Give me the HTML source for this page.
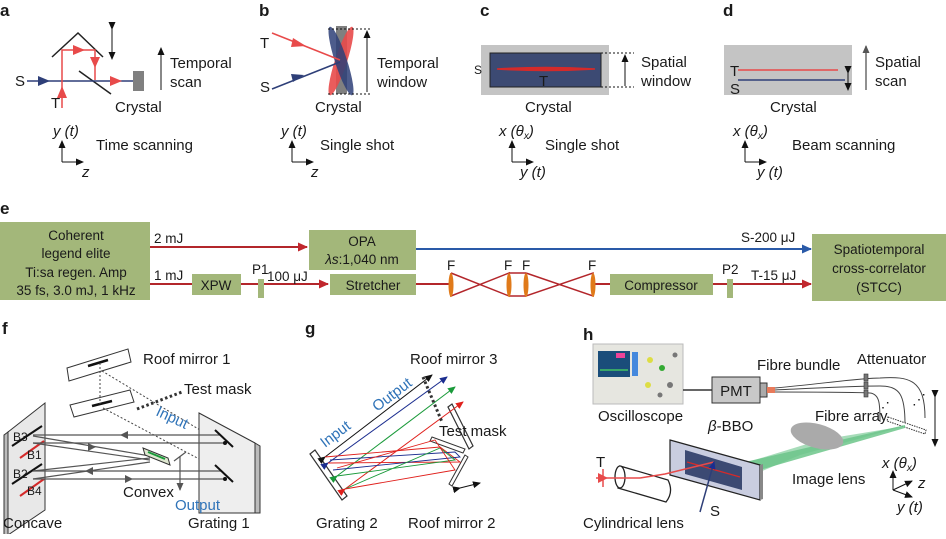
<!DOCTYPE html>
<html><head><meta charset="utf-8"><style>
body{margin:0;background:#fff}
svg text{font-family:"Liberation Sans",Arial,sans-serif;font-size:15px;fill:#1a1a1a}
.b{font-weight:bold;font-size:17px}
.e{font-size:13.5px}
.i{font-style:italic}
.bl{fill:#2f73b8}
</style></head><body>
<svg width="946" height="534" viewBox="0 0 946 534" xmlns="http://www.w3.org/2000/svg">
<defs>
<marker id="ak" markerWidth="8" markerHeight="8" refX="7" refY="4" orient="auto" markerUnits="userSpaceOnUse"><path d="M0,0.5 L8,4 L0,7.5z" fill="#111"/></marker>
<marker id="ar" markerWidth="10" markerHeight="10" refX="9" refY="5" orient="auto" markerUnits="userSpaceOnUse"><path d="M0,0.5 L10,5 L0,9.5z" fill="#c1272d"/></marker>
<marker id="ab" markerWidth="10" markerHeight="10" refX="9" refY="5" orient="auto" markerUnits="userSpaceOnUse"><path d="M0,0.5 L10,5 L0,9.5z" fill="#2a5aa8"/></marker>
<marker id="ag" markerWidth="8" markerHeight="8" refX="7" refY="4" orient="auto" markerUnits="userSpaceOnUse"><path d="M0,0.5 L8,4 L0,7.5z" fill="#1a9a3a"/></marker>
<marker id="au" markerWidth="8" markerHeight="8" refX="7" refY="4" orient="auto" markerUnits="userSpaceOnUse"><path d="M0,0.5 L8,4 L0,7.5z" fill="#1b2d8f"/></marker>
<marker id="arr" markerWidth="8" markerHeight="8" refX="7" refY="4" orient="auto" markerUnits="userSpaceOnUse"><path d="M0,0.5 L8,4 L0,7.5z" fill="#e0201c"/></marker>
<marker id="ay" markerWidth="8" markerHeight="8" refX="7" refY="4" orient="auto" markerUnits="userSpaceOnUse"><path d="M0,0.5 L8,4 L0,7.5z" fill="#555"/></marker>
</defs>

<!-- Panel a -->
<text x="0" y="16" class="b">a</text>
<polyline points="52,57 78,33 103,57" fill="none" stroke="#222" stroke-width="1.5"/>
<line x1="112" y1="29" x2="112" y2="59" stroke="#111" marker-start="url(#ak)" marker-end="url(#ak)"/>
<line x1="79" y1="71" x2="111" y2="94" stroke="#222" stroke-width="1.5"/>
<line x1="27" y1="81" x2="133" y2="81" stroke="#2e3f78" stroke-width="1.5"/>
<polyline points="62,108 62,50 95,50 95,80" fill="none" stroke="#e84a4a" stroke-width="1.5"/>
<path d="M38,76 L50,81 L38,86z" fill="#2e3f78"/>
<path d="M110,76 L122,81 L110,86z" fill="#e84a4a"/>
<path d="M57,98 L62,86 L67,98z" fill="#e84a4a"/>
<path d="M73,45 L85,50 L73,55z" fill="#e84a4a"/>
<path d="M90,57 L95,68 L100,57z" fill="#e84a4a"/>
<rect x="133" y="71" width="11" height="20" fill="#808080"/>
<line x1="161" y1="90" x2="161" y2="48" stroke="#111" marker-end="url(#ak)"/>
<text x="170" y="68">Temporal</text><text x="170" y="87">scan</text>
<text x="15" y="86" fill="#2e3f78">S</text>
<text x="51" y="108" fill="#e84a4a">T</text>
<text x="115" y="112">Crystal</text>
<text x="53" y="136" class="i">y (t)</text>
<polyline points="62,162 62,141" fill="none" stroke="#111" marker-end="url(#ak)"/>
<line x1="62" y1="162" x2="83" y2="162" stroke="#111" marker-end="url(#ak)"/>
<text x="82" y="177" class="i">z</text>
<text x="96" y="150">Time scanning</text>

<!-- Panel b -->
<text x="259" y="16" class="b">b</text>
<rect x="336" y="26" width="11" height="68" fill="#808080"/>
<ellipse cx="341" cy="61" rx="6" ry="36" fill="#e84a4a" opacity="0.9" transform="rotate(18 341 61)"/>
<ellipse cx="341" cy="61" rx="6" ry="36" fill="#2e3f78" opacity="0.85" transform="rotate(-18 341 61)"/>
<line x1="272" y1="33" x2="340" y2="60" stroke="#e84a4a" stroke-width="1.5"/>
<line x1="272" y1="89" x2="340" y2="62" stroke="#2e3f78" stroke-width="1.5"/>
<path d="M293,38 L306,46 L291,47z" fill="#e84a4a"/>
<path d="M291,74 L304,75 L293,82z" fill="#2e3f78"/>
<line x1="328" y1="29" x2="372" y2="29" stroke="#111" stroke-dasharray="2,2"/>
<line x1="328" y1="94" x2="372" y2="94" stroke="#111" stroke-dasharray="2,2"/>
<line x1="367" y1="92" x2="367" y2="31" stroke="#111" marker-end="url(#ak)"/>
<text x="377" y="68">Temporal</text><text x="377" y="87">window</text>
<text x="260" y="48" fill="#e84a4a">T</text>
<text x="260" y="92" fill="#2e3f78">S</text>
<text x="315" y="112">Crystal</text>
<text x="281" y="136" class="i">y (t)</text>
<line x1="292" y1="162" x2="292" y2="141" stroke="#111" marker-end="url(#ak)"/>
<line x1="292" y1="162" x2="313" y2="162" stroke="#111" marker-end="url(#ak)"/>
<text x="311" y="177" class="i">z</text>
<text x="320" y="150">Single shot</text>

<!-- Panel c -->
<text x="480" y="16" class="b">c</text>
<rect x="481" y="45" width="128" height="50" fill="#c4c4c4"/>
<rect x="490" y="53" width="111" height="34" fill="#3c4a73" stroke="#222"/>
<path d="M497,69 Q546,66 595,69 Q546,72 497,69z" fill="#d42a2a" stroke="#d42a2a" stroke-width="1.5"/>
<text x="539" y="86" fill="#d42a2a">T</text>
<text x="474" y="74" fill="#2e3f78" style="font-size:12px">S</text>
<line x1="601" y1="53" x2="634" y2="53" stroke="#111" stroke-dasharray="2,2"/>
<line x1="601" y1="87" x2="634" y2="87" stroke="#111" stroke-dasharray="2,2"/>
<line x1="625" y1="86" x2="625" y2="55" stroke="#111" marker-end="url(#ak)"/>
<text x="641" y="67">Spatial</text><text x="641" y="86">window</text>
<text x="525" y="112">Crystal</text>
<text x="499" y="136" class="i">x (θ<tspan font-size="10" dy="3">x</tspan><tspan dy="-3">)</tspan></text>
<line x1="512" y1="162" x2="512" y2="141" stroke="#111" marker-end="url(#ak)"/>
<line x1="512" y1="162" x2="533" y2="162" stroke="#111" marker-end="url(#ak)"/>
<text x="520" y="177" class="i">y (t)</text>
<text x="545" y="150">Single shot</text>

<!-- Panel d -->
<text x="723" y="16" class="b">d</text>
<rect x="724" y="45" width="128" height="50" fill="#c4c4c4"/>
<line x1="738" y1="70" x2="838" y2="70" stroke="#e84a4a" stroke-width="1.5"/>
<line x1="738" y1="80" x2="845" y2="80" stroke="#2e3f78" stroke-width="1.5"/>
<text x="730" y="76" fill="#e84a4a">T</text>
<text x="730" y="94" fill="#2e3f78">S</text>
<line x1="848" y1="73" x2="848" y2="90" stroke="#111" marker-start="url(#ak)" marker-end="url(#ak)"/>
<line x1="866" y1="90" x2="866" y2="46" stroke="#555" stroke-width="1.3" marker-end="url(#ay)"/>
<text x="875" y="67">Spatial</text><text x="875" y="86">scan</text>
<text x="770" y="112">Crystal</text>
<text x="733" y="136" class="i">x (θ<tspan font-size="10" dy="3">x</tspan><tspan dy="-3">)</tspan></text>
<line x1="745" y1="162" x2="745" y2="141" stroke="#111" marker-end="url(#ak)"/>
<line x1="745" y1="162" x2="766" y2="162" stroke="#111" marker-end="url(#ak)"/>
<text x="757" y="177" class="i">y (t)</text>
<text x="792" y="150">Beam scanning</text>

<!-- Panel e -->
<text x="0" y="214" class="b">e</text>
<rect x="0" y="222" width="150" height="78" fill="#a3b77a"/>
<text x="76" y="240" class="e" text-anchor="middle">Coherent</text>
<text x="76" y="258" class="e" text-anchor="middle">legend elite</text>
<text x="76" y="277" class="e" text-anchor="middle">Ti:sa regen. Amp</text>
<text x="76" y="295" class="e" text-anchor="middle">35 fs, 3.0 mJ, 1 kHz</text>
<line x1="150" y1="247" x2="307" y2="247" stroke="#b3262b" stroke-width="2" marker-end="url(#ar)"/>
<text x="154" y="243" class="e">2 mJ</text>
<rect x="309" y="230" width="107" height="40" fill="#a3b77a"/>
<text x="362" y="246" class="e" text-anchor="middle">OPA</text>
<text x="362" y="264" class="e" text-anchor="middle"><tspan class="i">λs</tspan>:1,040 nm</text>
<line x1="416" y1="249" x2="811" y2="249" stroke="#2a5aa8" stroke-width="2" marker-end="url(#ab)"/>
<text x="741" y="242" class="e">S-200 μJ</text>
<rect x="812" y="234" width="134" height="67" fill="#a3b77a"/>
<text x="879" y="254" class="e" text-anchor="middle">Spatiotemporal</text>
<text x="879" y="273" class="e" text-anchor="middle">cross-correlator</text>
<text x="879" y="292" class="e" text-anchor="middle">(STCC)</text>
<line x1="150" y1="284" x2="192" y2="284" stroke="#b3262b" stroke-width="2"/>
<text x="154" y="280" class="e">1 mJ</text>
<rect x="192" y="274" width="49" height="21" fill="#a3b77a"/>
<text x="216" y="290" class="e" text-anchor="middle">XPW</text>
<line x1="241" y1="284" x2="328" y2="284" stroke="#b3262b" stroke-width="2" marker-end="url(#ar)"/>
<rect x="258" y="279" width="6" height="19" fill="#a3b77a"/>
<text x="252" y="274" class="e">P1</text>
<text x="267" y="281" class="e">100 μJ</text>
<rect x="330" y="274" width="86" height="21" fill="#a3b77a"/>
<text x="373" y="290" class="e" text-anchor="middle">Stretcher</text>
<line x1="416" y1="284" x2="451" y2="284" stroke="#b3262b" stroke-width="2"/>
<g stroke="#b3262b" stroke-width="1.5" fill="none">
<polyline points="451,273 509,296 509,273 451,296 451,273"/>
<line x1="509" y1="273" x2="526" y2="273"/><line x1="509" y1="296" x2="526" y2="296"/>
<polyline points="526,273 593,296 593,273 526,296 526,273"/>
</g>
<line x1="593" y1="284" x2="610" y2="284" stroke="#b3262b" stroke-width="2"/>
<g fill="#e07a1a">
<ellipse cx="451" cy="285" rx="2.5" ry="12"/><ellipse cx="509" cy="285" rx="2.5" ry="12"/>
<ellipse cx="526" cy="285" rx="2.5" ry="12"/><ellipse cx="593" cy="285" rx="2.5" ry="12"/>
</g>
<text x="447" y="270" class="e">F</text><text x="504" y="270" class="e">F</text>
<text x="522" y="270" class="e">F</text><text x="588" y="270" class="e">F</text>
<rect x="610" y="274" width="103" height="21" fill="#a3b77a"/>
<text x="661" y="290" class="e" text-anchor="middle">Compressor</text>
<line x1="713" y1="284" x2="811" y2="284" stroke="#b3262b" stroke-width="2" marker-end="url(#ar)"/>
<rect x="727" y="279" width="6" height="19" fill="#a3b77a"/>
<text x="722" y="274" class="e">P2</text>
<text x="751" y="280" class="e">T-15 μJ</text>

<!-- Panel f -->
<text x="2" y="334" class="b">f</text>
<polygon points="67,368 128,349 131,362 69,381" fill="#fff" stroke="#333"/>
<line x1="88" y1="366" x2="108" y2="360" stroke="#111" stroke-width="2.5"/>
<polygon points="70,405 130,390 134,402 74,417" fill="#fff" stroke="#333"/>
<line x1="92" y1="406" x2="112" y2="401" stroke="#111" stroke-width="2.5"/>
<g stroke="#444" stroke-dasharray="2,2" fill="none">
<line x1="100" y1="363" x2="100" y2="404"/>
<line x1="102" y1="371" x2="220" y2="442"/>
<line x1="103" y1="408" x2="220" y2="470"/>
</g>
<line x1="137" y1="409" x2="182" y2="392" stroke="#333" stroke-width="3" stroke-dasharray="2.5,2.5"/>
<text x="143" y="364">Roof mirror 1</text>
<text x="184" y="394">Test mask</text>
<polygon points="8,432 45,403 45,510 8,535" fill="#e8e8e8" stroke="#333"/>
<polygon points="4,435 8,432 8,535 4,538" fill="#bbb" stroke="#333"/>
<polygon points="199,413 255,443 255,513 199,513" fill="#eee" stroke="#333"/>
<polygon points="255,443 260,446 260,513 255,513" fill="#bbb" stroke="#333"/>
<line x1="12" y1="446" x2="42" y2="426" stroke="#111" stroke-width="2"/>
<line x1="20" y1="458" x2="44" y2="441" stroke="#d42a2a" stroke-width="2"/>
<line x1="12" y1="484" x2="42" y2="464" stroke="#111" stroke-width="2"/>
<line x1="20" y1="496" x2="44" y2="479" stroke="#d42a2a" stroke-width="2"/>
<g stroke="#555" stroke-width="1.2" fill="none">
<line x1="33" y1="435" x2="220" y2="435"/>
<line x1="33" y1="443" x2="226" y2="443"/>
<line x1="33" y1="471" x2="222" y2="471"/>
<line x1="33" y1="479" x2="226" y2="479"/>
<line x1="33" y1="436" x2="150" y2="456"/>
<line x1="33" y1="443" x2="150" y2="460"/>
<line x1="150" y1="458" x2="33" y2="471"/>
<line x1="150" y1="462" x2="33" y2="479"/>
<line x1="180" y1="456" x2="180" y2="490" marker-end="url(#ay)"/>
<line x1="174" y1="461" x2="186" y2="452"/>
</g>
<g fill="#555"><path d="M120,431 L128,435 L120,439z" transform="rotate(180 124 435)"/>
<path d="M125,475 L133,479 L125,483z"/><path d="M85,467 L93,471 L85,475z" transform="rotate(180 89 471)"/>
<path d="M88,443 L96,447 L88,451z"/></g>
<polygon points="143,448 168,458 170,465 145,455" fill="#dfe8d0" stroke="#333"/>
<line x1="148" y1="452" x2="165" y2="459" stroke="#1a9a3a" stroke-width="2"/>
<line x1="215" y1="430" x2="233" y2="447" stroke="#111" stroke-width="2"/>
<line x1="215" y1="465" x2="233" y2="482" stroke="#111" stroke-width="2"/>
<circle cx="225" cy="443" r="2" fill="#111"/><circle cx="225" cy="479" r="2" fill="#111"/>
<text x="13" y="441" style="font-size:12px">B3</text>
<text x="27" y="459" style="font-size:12px" fill="#d42a2a">B1</text>
<text x="13" y="478" style="font-size:12px">B2</text>
<text x="27" y="495" style="font-size:12px" fill="#d42a2a">B4</text>
<text x="155" y="415" class="bl" transform="rotate(25 155 415)">Input</text>
<text x="123" y="497">Convex</text>
<text x="175" y="510" class="bl">Output</text>
<text x="3" y="528">Concave</text>
<text x="188" y="528">Grating 1</text>

<!-- Panel g -->
<text x="305" y="334" class="b">g</text>
<polygon points="448,407 452,404 473,446 469,449" fill="#fff" stroke="#333" stroke-width="1.2"/>
<polygon points="310,454 315,450 347,496 342,500" fill="#fff" stroke="#333" stroke-width="1.2"/>
<polygon points="430,441 432,437 465,449 463,453" fill="#fff" stroke="#333"/>
<polygon points="465,455 468,457 452,486 449,484" fill="#fff" stroke="#333"/>
<line x1="325" y1="457" x2="432" y2="375" stroke="#111" marker-start="url(#ak)" marker-end="url(#ak)"/>
<line x1="328" y1="463" x2="447" y2="377" stroke="#1b2d8f" marker-start="url(#au)" marker-end="url(#au)"/>
<line x1="337" y1="476" x2="455" y2="387" stroke="#1a9a3a" marker-start="url(#ag)" marker-end="url(#ag)"/>
<line x1="345" y1="489" x2="463" y2="402" stroke="#e0201c" marker-start="url(#arr)" marker-end="url(#arr)"/>
<g fill="none" stroke-width="0.9">
<polyline points="325,457 440,447 460,462 328,463" stroke="#e0201c"/>
<polyline points="330,460 455,452 460,457 333,470" stroke="#1b2d8f"/>
<polyline points="337,476 455,460 440,448 345,489" stroke="#1a9a3a"/>
<polyline points="345,489 455,470 435,440 337,468" stroke="#e0201c"/>
</g>
<line x1="423" y1="377" x2="442" y2="422" stroke="#333" stroke-width="3" stroke-dasharray="2.5,2.5"/>
<text x="410" y="364">Roof mirror 3</text>
<text x="439" y="436">Test mask</text>
<text x="325" y="448" class="bl" transform="rotate(-37 325 448)">Input</text>
<text x="377" y="412" class="bl" transform="rotate(-37 377 412)">Output</text>
<line x1="460" y1="488" x2="480" y2="483" stroke="#111" marker-start="url(#ak)" marker-end="url(#ak)"/>
<text x="316" y="528">Grating 2</text>
<text x="408" y="528">Roof mirror 2</text>

<!-- Panel h -->
<text x="583" y="340" class="b">h</text>
<rect x="593" y="344" width="90" height="60" fill="#e6e6e0" stroke="#bbb"/>
<rect x="598" y="351" width="32" height="26" fill="#1a4d7a"/>
<line x1="600" y1="370" x2="628" y2="370" stroke="#5f5" stroke-width="1"/>
<rect x="616" y="353" width="9" height="5" fill="#e49"/>
<rect x="632" y="352" width="6" height="24" fill="#48d"/>
<circle cx="650" cy="360" r="3" fill="#dd4"/><circle cx="662" cy="368" r="3" fill="#3a3"/>
<circle cx="648" cy="385" r="3" fill="#dd4"/><circle cx="670" cy="385" r="3" fill="#777"/>
<circle cx="660" cy="395" r="2.5" fill="#777"/><circle cx="675" cy="355" r="2.5" fill="#777"/>
<line x1="683" y1="390" x2="712" y2="390" stroke="#333" stroke-width="1.5"/>
<text x="598" y="421">Oscilloscope</text>
<rect x="712" y="377" width="48" height="26" fill="#c8c8c8" stroke="#333"/>
<text x="736" y="396" text-anchor="middle" style="font-size:15px">PMT</text>
<rect x="760" y="383" width="7" height="14" fill="#aaa" stroke="#333"/>
<rect x="767" y="387" width="8" height="6" fill="#e87a5a"/>
<g fill="none" stroke="#444" stroke-width="1">
<path d="M775,388 C820,384 860,378 880,378 C910,376 925,380 925,418"/>
<path d="M775,390 C820,388 850,386 880,386 C900,386 905,395 905,424"/>
<path d="M775,392 C820,392 850,392 870,393 C880,394 880,405 880,422"/>
</g>
<g fill="#777" stroke="#333" stroke-width="0.6">
<rect x="864" y="374" width="4" height="7"/><rect x="864" y="382" width="4" height="7"/><rect x="864" y="390" width="4" height="7"/>
</g>
<text x="876" y="412" style="font-size:14px;letter-spacing:2px">⋰</text>
<text x="912" y="404" style="font-size:14px">⋰</text>
<text x="757" y="370">Fibre bundle</text>
<text x="857" y="364">Attenuator</text>
<text x="815" y="421">Fibre array</text>
<polygon points="888,417 926,430 925,434 887,421" fill="#fff" stroke="#333" stroke-dasharray="1.5,1"/>
<line x1="935" y1="397" x2="935" y2="446" stroke="#111" marker-start="url(#ak)" marker-end="url(#ak)"/>
<polygon points="745,462 905,425 905,428 760,470" fill="#6cc58a" opacity="0.85"/>
<polygon points="748,462 820,440 905,426 800,455 760,472" fill="#6cc58a" opacity="0.6"/>
<ellipse cx="817" cy="436" rx="27" ry="12" fill="#aaa" transform="rotate(15 817 436)"/>
<polygon points="670,440 760,465 760,500 670,475" fill="#c9cde0" stroke="#222" stroke-width="1.2"/>
<polygon points="760,465 763,464 763,499 760,500" fill="#888"/>
<polygon points="685,450 742,467 742,490 685,474" fill="#3c4a73"/>
<line x1="687" y1="462" x2="740" y2="477" stroke="#d42a2a" stroke-width="1.3"/>
<text x="708" y="431"><tspan class="i">β</tspan>-BBO</text>
<text x="792" y="484">Image lens</text>
<path d="M620,466 L668,480 Q674,492 666,502 L618,488z" fill="#fff" stroke="#222" stroke-width="1.3"/>
<ellipse cx="620" cy="477" rx="5" ry="11" fill="#fff" stroke="#222" stroke-width="1.3"/>
<line x1="596" y1="478" x2="640" y2="478" stroke="#e84a4a" stroke-width="1.5"/>
<polyline points="640,478 665,474 714,462" fill="none" stroke="#e84a4a" stroke-width="1.5"/>
<line x1="603" y1="469" x2="603" y2="487" stroke="#e84a4a" stroke-width="1.5"/>
<path d="M598,473 L608,478 L598,483z" fill="#e84a4a"/>
<text x="596" y="467" fill="#e84a4a">T</text>
<line x1="700" y1="512" x2="714" y2="462" stroke="#2e3f78" stroke-width="1.5" marker-end="url(#au)"/>
<text x="710" y="516" fill="#2e3f78">S</text>
<text x="583" y="528">Cylindrical lens</text>
<text x="882" y="468" class="i">x (θ<tspan font-size="10" dy="3">x</tspan><tspan dy="-3">)</tspan></text>
<line x1="893" y1="490" x2="893" y2="471" stroke="#111" marker-end="url(#ak)"/>
<line x1="893" y1="490" x2="912" y2="481" stroke="#111" marker-end="url(#ak)"/>
<line x1="893" y1="490" x2="912" y2="497" stroke="#111" marker-end="url(#ak)"/>
<text x="918" y="488" class="i">z</text>
<text x="897" y="512" class="i">y (t)</text>
</svg>
</body></html>
